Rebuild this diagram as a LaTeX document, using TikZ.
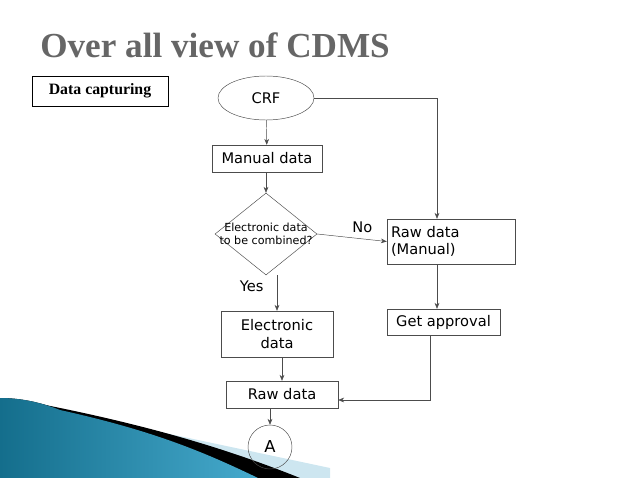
\documentclass[tikz,border=0pt]{standalone}
\usepackage{fontspec}
\setmainfont{DejaVu Sans}
\newfontfamily\titlefont{Liberation Serif}
\usetikzlibrary{shapes.geometric,arrows.meta}

\definecolor{deepteal}{RGB}{20,110,140}
\definecolor{skyteal}{RGB}{70,170,205}
\definecolor{paleblue}{RGB}{205,230,240}

\tikzset{
  box/.style={draw=black!70, thin, font=\fontsize{12.5}{15}\selectfont},
  flow/.style={-{Stealth[length=5pt,width=4pt]}, black!70, thin},
  lbl/.style={text=black, font=\fontsize{12.5}{15}\selectfont}
}

\begin{document}
\begin{tikzpicture}[x=0.03cm,y=-0.03cm]
    \useasboundingbox (0,0) rectangle (638,478);

    % decoration bottom left
    \fill[paleblue] (0,398) -- (330,468) -- (330,478) -- (0,478) -- cycle;
    \fill[black] (30,402) .. controls (150,425) and (230,450) .. (300,478) -- (250,478) .. controls (180,450) and (100,425) .. (30,402) -- cycle;
    \fill[left color=deepteal, right color=skyteal] (0,398) .. controls (20,398) and (40,402) .. (60,410) .. controls (150,430) and (200,450) .. (258,478) -- (0,478) -- cycle;

    % title
    \node[text=black!60, font=\titlefont\bfseries\fontsize{30}{34}\selectfont] (title) at (215,45) {Over all view of CDMS};

    % boxes
    \node[draw, thin, minimum width=136*0.03cm, minimum height=30*0.03cm, font=\titlefont\bfseries\fontsize{13.5}{16}\selectfont] (capt) at (100,91) {Data capturing};
    \node[box, ellipse, minimum width=96*0.03cm, minimum height=44*0.03cm] (crf) at (266,98) {CRF};
    \node[box, minimum width=110*0.03cm, minimum height=27*0.03cm] (manual) at (267,158.5) {Manual data};
    \node[box, diamond, aspect=1.25, minimum width=102*0.03cm, minimum height=82*0.03cm, inner sep=-7pt, align=center, font=\fontsize{9.5}{11}\selectfont] (decide) at (266,234) {Electronic data\\to be combined?};
    \node[box, minimum width=128*0.03cm, minimum height=45*0.03cm, align=left, text width=120*0.03cm] (rawman) at (451,241.5) {Raw data\\(Manual)};
    \node[box, minimum width=112*0.03cm, minimum height=46*0.03cm, align=center] (elec) at (277,334) {Electronic\\data};
    \node[box, minimum width=113*0.03cm, minimum height=26*0.03cm] (approve) at (443.5,322) {Get approval};
    \node[box, minimum width=112*0.03cm, minimum height=27*0.03cm] (raw) at (282,394.5) {Raw data};
    \node[box, circle, minimum size=44*0.03cm, inner sep=0pt, font=\fontsize{14}{16}\selectfont] (conA) at (270,447) {A};
    \coordinate (turn1) at (437,98);
    \coordinate (turn2) at (430,400);

    % connectors
    \draw[flow] (crf) -- (manual);
    \draw[flow] (manual.south -| decide.north) -- (decide.north);
    \draw[flow] (decide.east) -- (rawman.west) node[lbl, pos=0.65, above=2pt] {No};
    \draw[flow] (decide.south -| elec.north) -- (elec.north) node[lbl, pos=0.3, left=8pt] {Yes};
    \draw[flow] (elec.south -| raw.north) -- (raw.north);
    \draw[flow] (raw.south -| conA.north) -- (conA.north);
    \draw[flow] (crf.east) -- (turn1) -- (turn1 |- rawman.north);
    \draw[flow] (rawman.south -| turn1) -- (turn1 |- approve.north);
    \draw[flow] (approve.south -| turn2) -- (turn2) -- (raw.east |- turn2);
\end{tikzpicture}
\end{document}
